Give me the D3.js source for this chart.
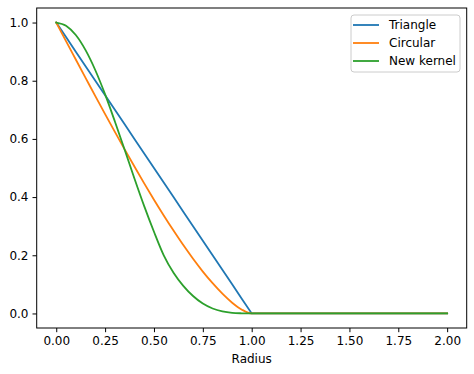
<!DOCTYPE html>
<html><head><meta charset="utf-8">
<script src="https://cdn.jsdelivr.net/npm/d3@7"></script>
<style>body{margin:0;background:#fff}svg{display:block}text{font-family:"DejaVu Sans",sans-serif;fill:#000}</style>
</head><body><svg id="c" width="474" height="374"></svg>
<script>
const radius = [0,0.05,0.1,0.15,0.2,0.25,0.3,0.35,0.4,0.45,0.5,0.55,0.6,0.65,0.7,0.75,0.8,0.85,0.9,0.95,1.0,2.0];
const triangle = [1,0.95,0.9,0.85,0.8,0.75,0.7,0.65,0.6,0.55,0.5,0.45,0.4,0.35,0.3,0.25,0.2,0.15,0.1,0.05,0,0];
const circular = [1,0.936,0.873,0.810,0.747,0.685,0.624,0.564,0.505,0.447,0.391,0.337,0.285,0.235,0.188,0.144,0.104,0.068,0.037,0.013,0,0];
const newKernel = [1,0.989,0.957,0.905,0.836,0.753,0.660,0.563,0.464,0.369,0.281,0.200,0.140,0.095,0.060,0.034,0.017,0.007,0.002,0.0005,0,0];
const seriesNames = ["Triangle","Circular","New kernel"];
const colors = ["#1f77b4","#ff7f0e","#2ca02c"];
const xTicks = [0,0.25,0.5,0.75,1.0,1.25,1.5,1.75,2.0];
const yTicks = [0,0.2,0.4,0.6,0.8,1.0];

const svg = d3.select("#c");
const L=36.7, R=466.7, T=8, B=328;
const x = d3.scaleLinear().domain([-0.1,2.1]).range([L,R]);
const y = d3.scaleLinear().domain([-0.05,1.05]).range([B,T]);

const allSeries = [triangle, circular, newKernel];
const curves = [d3.curveLinear, d3.curveMonotoneX, d3.curveMonotoneX];
const g = svg.append("g");
allSeries.forEach((s,i)=>{
  const line = d3.line().x((d,j)=>x(radius[j])).y(d=>y(d)).curve(curves[i]);
  g.append("path").datum(s).attr("d",line).attr("fill","none")
   .attr("stroke",colors[i]).attr("stroke-width",1.8).attr("stroke-linecap","square");
});

const xAxis = d3.axisBottom(x).tickValues(xTicks).tickFormat(d3.format(".2f")).tickSize(4.2).tickPadding(4);
const yAxis = d3.axisLeft(y).tickValues(yTicks).tickFormat(d3.format(".1f")).tickSize(4.2).tickPadding(4);
const gx = svg.append("g").attr("transform",`translate(0,${B})`).call(xAxis);
const gy = svg.append("g").attr("transform",`translate(${L},0)`).call(yAxis);
[gx,gy].forEach(a=>{
  a.select(".domain").remove();
  a.selectAll("line").attr("stroke","#000").attr("stroke-width",1);
  a.selectAll("text").style("font-size","12px").style("font-family","DejaVu Sans");
});
svg.append("rect").attr("x",L).attr("y",T).attr("width",R-L).attr("height",B-T)
  .attr("fill","none").attr("stroke","#000").attr("stroke-width",1);

svg.append("text").attr("x",(L+R)/2).attr("y",363).attr("text-anchor","middle")
  .style("font-size","12px").text("Radius");

const lg = svg.append("g");
lg.append("rect").attr("x",351).attr("y",15).attr("width",109).attr("height",57).attr("rx",3)
  .attr("fill","#fff").attr("fill-opacity",0.8).attr("stroke","#cccccc").attr("stroke-width",1);
seriesNames.forEach((n,i)=>{
  const yy = 25 + i*18;
  lg.append("line").attr("x1",353).attr("x2",379).attr("y1",yy).attr("y2",yy)
    .attr("stroke",colors[i]).attr("stroke-width",1.8);
  lg.append("text").attr("x",389).attr("y",yy).attr("dy","0.35em").style("font-size","12px").text(n);
});
</script></body></html>
